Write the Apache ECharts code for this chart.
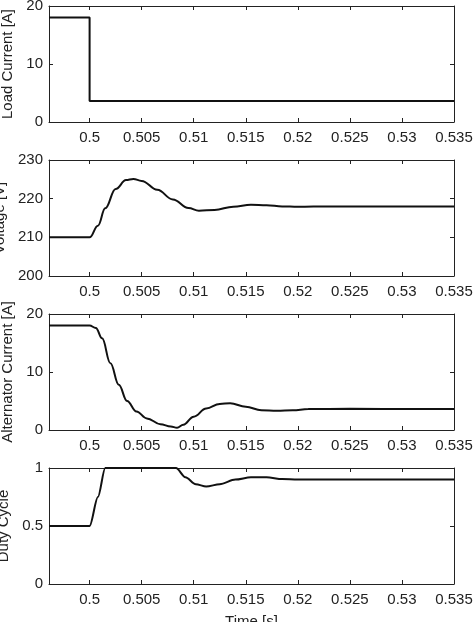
<!DOCTYPE html>
<html>
<head>
<meta charset="utf-8">
<script src="https://cdn.jsdelivr.net/npm/echarts@6/dist/echarts.min.js"></script>
<style>html,body{margin:0;padding:0;background:#fff}#chart{width:474px;height:622px}</style>
</head>
<body>
<div id="chart"></div>
<script>
// time ticks shown on every panel
var xTicks = [0.5, 0.505, 0.51, 0.515, 0.52, 0.525, 0.53, 0.535];

var loadCurrent = [[0.4961, 18], [0.5, 18], [0.5, 3.6], [0.535, 3.6]];

var voltage = [[0.4961, 210], [0.5, 210], [0.5008, 213], [0.5015, 217.5], [0.5025, 222.5],
	[0.5035, 224.8], [0.5042, 225.1], [0.505, 224.6], [0.5065, 222.3], [0.508, 219.8],
	[0.5095, 217.6], [0.5105, 216.9], [0.512, 217.1], [0.5138, 217.9], [0.5155, 218.4],
	[0.517, 218.3], [0.5185, 218.0], [0.52, 217.9], [0.523, 218.0], [0.535, 218.0]];

var altCurrent = [[0.4961, 18], [0.5, 18], [0.5006, 17.6], [0.5012, 15.8], [0.502, 11.5],
	[0.5028, 7.8], [0.5036, 5.0], [0.5045, 3.2], [0.5055, 2.0], [0.5068, 1.0],
	[0.5078, 0.6], [0.5084, 0.4], [0.509, 0.9], [0.51, 2.3], [0.5112, 3.7],
	[0.5125, 4.5], [0.5135, 4.6], [0.515, 4.0], [0.5165, 3.4], [0.518, 3.3],
	[0.5195, 3.4], [0.521, 3.6], [0.525, 3.65], [0.535, 3.6]];

var dutyCycle = [[0.4961, 0.5], [0.5, 0.5], [0.5008, 0.75], [0.5015, 1], [0.5083, 1],
	[0.5092, 0.92], [0.5102, 0.86], [0.5112, 0.84], [0.5125, 0.86], [0.514, 0.9],
	[0.5155, 0.92], [0.517, 0.92], [0.5185, 0.905], [0.52, 0.9], [0.523, 0.9], [0.535, 0.9]];

var panels = [
	{ name: 'Load Current [A]', min: 0, max: 20, interval: 10, data: loadCurrent, smooth: false },
	{ name: 'Voltage [V]', min: 200, max: 230, interval: 10, data: voltage, smooth: 0.4 },
	{ name: 'Alternator Current [A]', min: 0, max: 20, interval: 10, data: altCurrent, smooth: 0.4 },
	{ name: 'Duty Cycle', min: 0, max: 1, interval: 0.5, data: dutyCycle, smooth: 0.3 }
];
var tops = [6, 160, 314, 468];

var font = 'Liberation Sans';
var axisLine = { show: true, onZero: false, lineStyle: { color: '#222', width: 1 } };

var option = { animation: false, grid: [], xAxis: [], yAxis: [], series: [] };

panels.forEach(function (p, i) {
	option.grid.push({ left: 49, right: 20, top: tops[i], height: 116, containLabel: false, outerBoundsMode: 'none' });
	option.xAxis.push({
		type: 'value', gridIndex: i, min: 0.4961, max: 0.535,
		axisLine: axisLine,
		axisTick: { inside: true, length: 4, customValues: xTicks, lineStyle: { color: '#222' } },
		axisLabel: {
			customValues: xTicks, fontFamily: font, fontSize: 15, color: '#222', margin: 8,
			formatter: function (v) { return String(+v.toFixed(3)); }
		},
		splitLine: { show: false },
		name: i == 3 ? 'Time [s]' : '', nameLocation: 'middle', nameGap: 30,
		nameTextStyle: { fontFamily: font, fontSize: 15, color: '#222' }
	});
	// mirror axis for the box on top
	option.xAxis.push({
		type: 'value', gridIndex: i, position: 'top', min: 0.4961, max: 0.535,
		axisLine: axisLine,
		axisTick: { inside: true, length: 4, customValues: xTicks, lineStyle: { color: '#222' } },
		axisLabel: { show: false }, splitLine: { show: false }
	});
	option.yAxis.push({
		type: 'value', gridIndex: i, min: p.min, max: p.max, interval: p.interval,
		axisLine: axisLine,
		axisTick: { inside: true, length: 4, lineStyle: { color: '#222' } },
		axisLabel: { fontFamily: font, fontSize: 15, color: '#222', margin: 6 },
		splitLine: { show: false },
		name: p.name, nameLocation: 'middle', nameGap: 32, nameRotate: 90,
		nameTextStyle: { fontFamily: font, fontSize: 15, color: '#222' }
	});
	option.yAxis.push({
		type: 'value', gridIndex: i, position: 'right', min: p.min, max: p.max, interval: p.interval,
		axisLine: axisLine,
		axisTick: { inside: true, length: 4, lineStyle: { color: '#222' } },
		axisLabel: { show: false }, splitLine: { show: false }
	});
	option.series.push({
		type: 'line', xAxisIndex: i * 2, yAxisIndex: i * 2, data: p.data,
		smooth: p.smooth, smoothMonotone: 'x', showSymbol: false, symbol: 'none',
		lineStyle: { color: '#111', width: 2 }
	});
});

echarts.init(document.getElementById('chart')).setOption(option);
</script>
</body>
</html>
